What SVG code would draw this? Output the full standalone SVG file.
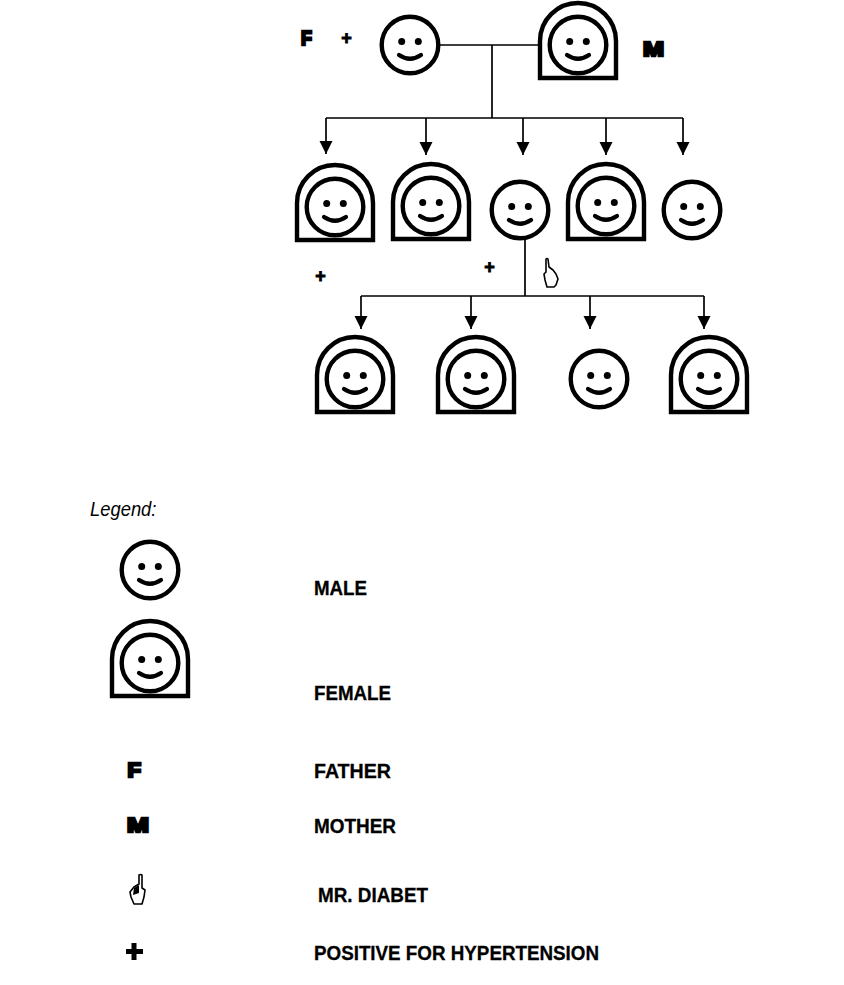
<svg xmlns="http://www.w3.org/2000/svg" xmlns:xlink="http://www.w3.org/1999/xlink" width="844" height="985" viewBox="0 0 844 985">
<style>
text{font-family:"Liberation Sans",Arial,sans-serif;fill:#000}
.lbl{font-size:20px;font-weight:bold;stroke:#000;stroke-width:.3px}
.sym{font-size:21px;font-weight:900;stroke:#000;stroke-width:2.6px}
.plus{font-size:18px;font-weight:bold;stroke:#000;stroke-width:.9px;text-anchor:middle}
.c{fill:none;stroke:#000;stroke-width:1.7}
.o{fill:none;stroke:#000;stroke-width:4.4}
.hand{fill:#fff;stroke:#000;stroke-width:1.6;stroke-linejoin:round}
</style>
<defs>
<marker id="ah" markerUnits="userSpaceOnUse" markerWidth="14" markerHeight="14" refX="13" refY="7" orient="auto"><path d="M0 0.500L13 7L0 13.500Z" fill="#000"/></marker>
<g id="face">
<circle r="28.300" class="o"/>
<circle cx="-8.300" cy="-3.500" r="3.500"/>
<circle cx="8.300" cy="-3.500" r="3.500"/>
<path d="M-11 10Q0 17.500 11 10" fill="none" stroke="#000" stroke-width="4.200" stroke-linecap="round"/>
</g>
<g id="fem">
<use href="#face"/>
<path d="M-38 33V-4A38 38 0 0 1 38 -4V33Z" class="o"/>
</g>
</defs>
<g id="connectors">
<path class="c" d="M440 45H539M492 45V118M326 118H683M525 240V296M361 296H704"/>
<path class="c" marker-end="url(#ah)" d="M326 118V154"/>
<path class="c" marker-end="url(#ah)" d="M426 118V155"/>
<path class="c" marker-end="url(#ah)" d="M523 118V155"/>
<path class="c" marker-end="url(#ah)" d="M606 118V155"/>
<path class="c" marker-end="url(#ah)" d="M683 118V155"/>
<path class="c" marker-end="url(#ah)" d="M361 296V329"/>
<path class="c" marker-end="url(#ah)" d="M471 296V329"/>
<path class="c" marker-end="url(#ah)" d="M590 296V329"/>
<path class="c" marker-end="url(#ah)" d="M704 296V329"/>
</g>
<g id="father"><use href="#face" x="410" y="45"/></g>
<g id="mother"><use href="#fem" x="578" y="45"/></g>
<g id="c1"><use href="#fem" x="335" y="207"/></g>
<g id="c2"><use href="#fem" x="431" y="206"/></g>
<g id="c3"><use href="#face" x="520" y="210"/></g>
<g id="c4"><use href="#fem" x="606" y="206"/></g>
<g id="c5"><use href="#face" x="692" y="210"/></g>
<g id="g1"><use href="#fem" x="355" y="379"/></g>
<g id="g2"><use href="#fem" x="476" y="379"/></g>
<g id="g3"><use href="#face" x="599" y="379"/></g>
<g id="g4"><use href="#fem" x="709" y="379"/></g>
<g id="marks">
<text class="sym" x="301" y="45" transform="translate(301 45) scale(.85 1) translate(-301 -45)">F</text>
<text class="plus" x="346.500" y="44">+</text>
<text class="sym" x="643" y="56" transform="translate(643 56) scale(1.2 1) translate(-643 -56)">M</text>
<text class="plus" x="320.500" y="282">+</text>
<text class="plus" x="489.500" y="273">+</text>
<path class="hand" d="M546 259Q547 258 548 259L549 267L553 270L556 274L558 279L556 285L554 287H547L545 280L544 274L546 272Z"/>
</g>
<g id="legend">
<text x="90" y="516" font-size="20" font-style="italic" transform="translate(90 516) scale(.92 1) translate(-90 -516)">Legend:</text>
<g id="lg-male"><use href="#face" x="150" y="570"/></g>
<g id="lg-female"><use href="#fem" x="150" y="663"/></g>
<text class="lbl" x="314" y="595" textLength="53" lengthAdjust="spacingAndGlyphs">MALE</text>
<text class="lbl" x="314" y="700" textLength="77" lengthAdjust="spacingAndGlyphs">FEMALE</text>
<text class="sym" x="127.500" y="777.500" transform="translate(127.500 777.500) scale(1.05 1) translate(-127.500 -777.500)">F</text>
<text class="lbl" x="314" y="778" textLength="77" lengthAdjust="spacingAndGlyphs">FATHER</text>
<text class="sym" x="127" y="832.500" transform="translate(127 832.500) scale(1.25 1) translate(-127 -832.500)">M</text>
<text class="lbl" x="314" y="833" textLength="82" lengthAdjust="spacingAndGlyphs">MOTHER</text>
<path class="hand" d="M139 875Q141 874 142 875L142 888L145 890L144 897L142 904H134L131 897L130 892L134 887L139 884Z"/>
<path d="M134 888L139 885V893L133 895Z" fill="#000"/>
<text class="lbl" x="318" y="902" textLength="110" lengthAdjust="spacingAndGlyphs">MR. DIABET</text>
<path d="M134 943V960M126 951.500H143" stroke="#000" stroke-width="5" fill="none"/>
<text class="lbl" x="314" y="960" textLength="285" lengthAdjust="spacingAndGlyphs">POSITIVE FOR HYPERTENSION</text>
</g>
</svg>
